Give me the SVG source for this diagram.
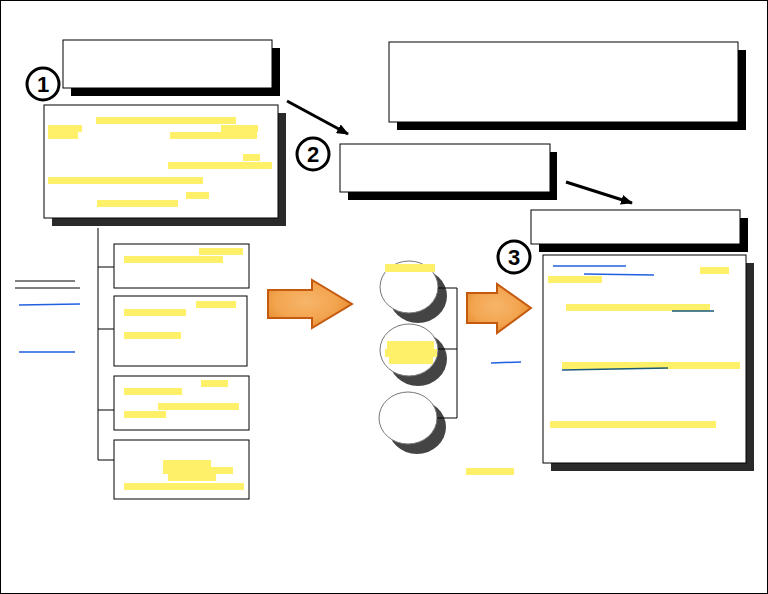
<svg xmlns="http://www.w3.org/2000/svg" width="768" height="594" viewBox="0 0 768 594">
<defs>
<style>
.b{fill:#fff;stroke:#000;stroke-width:1}
.s{fill:#000}
.sg{fill:#2a2a2a}
.h{fill:#fff06a}
.bl{stroke:#2060e0;stroke-width:1.5;fill:none}
.n{fill:#fff;stroke:#000;stroke-width:3}
.t{font-family:"Liberation Sans",sans-serif;font-weight:bold;font-size:22px;text-anchor:middle}
.ar{fill:url(#og);stroke:#c45a10;stroke-width:2}
</style>
<radialGradient id="og" cx="0.45" cy="0.45" r="0.6"><stop offset="0" stop-color="#f6b56a"/><stop offset="0.6" stop-color="#f3a550"/><stop offset="1" stop-color="#e58a2a"/></radialGradient>
<marker id="m" markerWidth="12" markerHeight="10" refX="11" refY="5" orient="auto" markerUnits="userSpaceOnUse" viewBox="0 0 12 10"><path d="M0,0L12,5L0,10z"/></marker>
</defs>
<rect x="0.5" y="0.5" width="767" height="593" fill="#fff" stroke="#000"/>
<g id="box1"><rect class="s" x="71" y="48" width="209" height="48"/><rect class="b" x="63" y="40" width="209" height="48"/></g>
<g id="boxTop"><rect class="s" x="397" y="50" width="349" height="80"/><rect class="b" x="389" y="42" width="349" height="80"/></g>
<g id="boxLeft"><rect class="sg" x="52" y="113" width="234" height="113"/><rect class="b" x="44" y="105" width="234" height="113"/>
<rect class="h" x="96" y="117" width="140" height="7"/><rect class="h" x="48" y="125" width="34" height="7"/><rect class="h" x="221" y="125" width="37" height="7"/><rect class="h" x="48" y="132" width="30" height="7"/><rect class="h" x="170" y="132" width="87" height="7"/><rect class="h" x="243" y="154" width="17" height="7"/><rect class="h" x="168" y="162" width="104" height="7"/><rect class="h" x="48" y="177" width="155" height="7"/><rect class="h" x="186" y="192" width="23" height="7"/><rect class="h" x="97" y="200" width="81" height="7"/></g>
<g id="box2"><rect class="s" x="348" y="152" width="209" height="48"/><rect class="b" x="340" y="144" width="210" height="48"/></g>
<g id="box3"><rect class="s" x="539" y="218" width="209" height="34"/><rect class="b" x="531" y="210" width="209" height="34"/></g>
<g id="boxRight"><rect class="sg" x="551" y="263" width="203" height="208"/><rect class="b" x="543" y="255" width="203" height="208"/>
<rect class="h" x="700" y="267" width="29" height="7"/><rect class="h" x="548" y="276" width="54" height="7"/><rect class="h" x="566" y="304" width="144" height="7"/><rect class="h" x="562" y="362" width="178" height="7"/><rect class="h" x="550" y="421" width="166" height="7"/>
<path class="bl" d="M553,266L626,266M584,274L654,275"/><path d="M672,311L714,311M562,370L668,368" stroke="#1a5a7a" stroke-width="1.5"/></g>
<g id="n1"><circle class="n" cx="43" cy="84" r="16"/><text class="t" x="43" y="92">1</text></g>
<g id="n2"><circle class="n" cx="313" cy="154" r="16"/><text class="t" x="313" y="162">2</text></g>
<g id="n3"><circle class="n" cx="514" cy="257" r="16"/><text class="t" x="514" y="265">3</text></g>
<g id="sub1"><rect class="b" x="114" y="244" width="135" height="44"/><rect class="h" x="199" y="248" width="44" height="7"/><rect class="h" x="124" y="256" width="99" height="7"/></g>
<g id="sub2"><rect class="b" x="114" y="296" width="133" height="70"/><rect class="h" x="196" y="301" width="40" height="7"/><rect class="h" x="124" y="309" width="62" height="7"/><rect class="h" x="124" y="332" width="57" height="7"/></g>
<g id="sub3"><rect class="b" x="114" y="376" width="135" height="54"/><rect class="h" x="201" y="380" width="27" height="7"/><rect class="h" x="124" y="388" width="58" height="7"/><rect class="h" x="158" y="403" width="81" height="7"/><rect class="h" x="124" y="411" width="42" height="7"/></g>
<g id="sub4"><rect class="b" x="114" y="440" width="135" height="59"/><rect class="h" x="163" y="460" width="48" height="7"/><rect class="h" x="163" y="467" width="70" height="7"/><rect class="h" x="168" y="474" width="48" height="7"/><rect class="h" x="124" y="483" width="120" height="7"/></g>
<g id="ov1"><ellipse cx="418" cy="296" rx="29" ry="27" fill="#444"/><ellipse cx="409" cy="287" rx="29" ry="26" fill="#fff" stroke="#777"/><rect class="h" x="385" y="264" width="50" height="8"/></g>
<g id="ov2"><ellipse cx="418" cy="359" rx="29" ry="27" fill="#444"/><ellipse cx="409" cy="350" rx="29" ry="26" fill="#fff" stroke="#777"/><rect class="h" x="387" y="341" width="47" height="8"/><rect class="h" x="385" y="349" width="52" height="8"/><rect class="h" x="389" y="357" width="44" height="7"/></g>
<g id="ov3"><ellipse cx="417" cy="427" rx="29" ry="27" fill="#444"/><ellipse cx="408" cy="418" rx="29" ry="26" fill="#fff" stroke="#777"/></g>
<g id="arrowA"><path class="ar" d="M268,290L312,290L312,280L352,304L312,328L312,318L268,318Z"/></g>
<g id="arrowB"><path class="ar" d="M467,293L497,293L497,284L531,308L497,333L497,323L467,323Z"/></g>
<g id="connectors" stroke="#000" fill="none">
<path d="M98,228L98,460M98,267L114,267M98,329L114,329M98,410L114,410M98,460L114,460"/>
<path d="M438,288L457,288L457,418L437,418M438,349L457,349"/>
<path d="M287,101L348,134" stroke-width="3" marker-end="url(#m)"/>
<path d="M566,182L632,203" stroke-width="3" marker-end="url(#m)"/>
</g>
<g id="misc">
<path d="M15,281L75,281M15,288L80,288" stroke="#000"/>
<path class="bl" d="M19,305L80,304M19,352L75,352M491,363L521,362"/>
<rect class="h" x="466" y="468" width="48" height="7"/>
</g>
</svg>
